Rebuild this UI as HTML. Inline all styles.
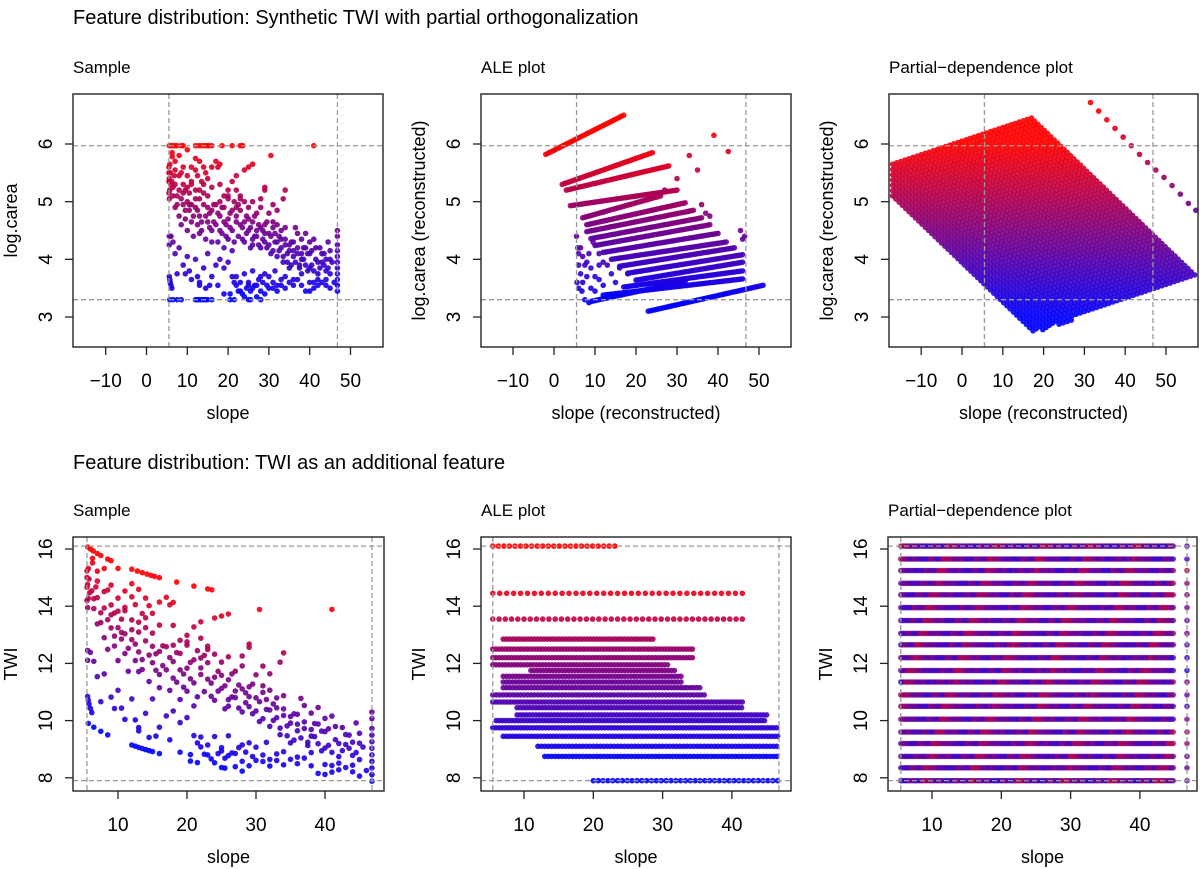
<!DOCTYPE html>
<html><head><meta charset="utf-8">
<style>
body{margin:0;background:#fff;}
svg{display:block;font-family:"Liberation Sans",Arial,sans-serif;}
</style></head>
<body>
<svg id="fig" width="1200" height="869" viewBox="0 0 1200 869" xmlns="http://www.w3.org/2000/svg">
<rect width="1200" height="869" fill="#fff"/>
<text x="73" y="24" font-size="20">Feature distribution: Synthetic TWI with partial orthogonalization</text>
<text x="73" y="469" font-size="20">Feature distribution: TWI as an additional feature</text>
<g id="layer"></g>
</svg>
<script>
// ---- data ----
const samplePoints = [
[5.6,5.97],[6,5.97],[6.4,5.97],[7,5.97],[7.5,5.97],[8.5,5.97],[9,5.97],[12,5.97],[12.8,5.97],[13.5,5.97],[14.2,5.97],[14.8,5.97],[15.3,5.97],[16,5.97],[18.5,5.97],[21,5.97],[23,5.97],[23.6,5.97],[41,5.97],
[5.7,5.65],[5.8,5.5],[5.6,5.4],[5.9,5.3],[6.2,5.35],[6.5,5.25],[5.7,5.2],[6.8,5.45],[7,5.55],[7.5,5.1],[8,5.45],[8.5,5.5],[6.3,5.85],[6.3,5.78],[9,5.3],[9.5,5.2],[10,5.9],[10.5,5.15],[11,5.6],[12,5.75],[12.5,5.45],[13,5.7],[13.5,5.35],[14,5.3],[14.5,5.5],[15,5.4],[16,5.6],[17,5.7],[17.5,5.6],[18,5.65],[19,5.1],[20,5.1],[21,5.35],[22,5.45],[24,5.55],[25,5.6],[26,5.65],[30.5,5.8],[29,5.25],[29,5.2],[34,5.2],[33.5,5.05],
[7,4.9],[8,4.75],[8.5,4.6],[9,4.95],[9.5,4.7],[10,4.5],[10.5,4.85],[11,4.65],[11.5,4.4],[12,4.9],[12.5,4.6],[13,4.75],[13.5,4.5],[14,4.95],[14.5,4.35],[15,4.65],[15.5,4.8],[16,4.5],[16.5,4.95],[17,4.6],[17.5,4.3],[18,4.75],[18.5,4.45],[19,4.9],[19.5,4.6],[20,4.35],[20.5,4.8],[21,4.5],[21.5,5.0],[22,4.65],[22.5,4.4],[23,4.85],[23.5,4.55],[24,4.3],[24.5,4.75],[25,4.5],[25.5,4.2],[26,4.65],[26.5,4.4],[27,4.8],[27.5,4.25],[28,4.55],[28.5,4.35],[29,4.6],[29.5,4.2],[30,4.45],[30.5,4.1],[31,4.55],[31.5,4.3],[32,4.05],[32.5,4.4],[33,4.2],[33.5,3.95],[34,4.35],[34.5,4.1],[35,3.85],[35.5,4.3],[36,4.05],[36.5,4.55],[37,4.2],[37.5,3.9],[38,4.35],[38.5,4.0],[39,4.2],[39.5,3.8],[40,4.1],[40.5,3.9],[41,4.35],[41.5,4.0],[42,3.75],[42.5,4.2],[43,3.95],[43.5,4.1],[44,3.8],[44.5,4.3],[45,4.0],[46,3.6],
[10,5.0],[11,4.95],[12,5.05],[13,4.45],[15,5.1],[16,4.3],[18,5.0],[19,4.2],[20,5.05],[21,4.15],[22,4.9],[23,5.1],[24,5.0],[25,4.9],[26,4.25],[27,4.5],[28,4.9],[29,4.45],[30,4.8],[31,4.65],[32,4.6],[33,4.5],[34,4.55],[35,4.25],[36,4.15],[37,4.45],[38,4.1],[39,4.45],[40,4.3],
[6,4.4],[5.6,4.25],[6.5,4.3],[7,4.1],[8,4.2],[9,3.9],[9.5,3.75],[10,4.05],[10.5,3.8],[11,3.65],[12,4.0],[12.5,3.7],[13,3.55],[14,3.85],[14.5,3.5],[15,4.1],[16,3.7],[17,3.9],[17.5,3.55],[18,4.0],[19,3.85],[20,3.95],[20.5,3.4],[21,3.7],[21.5,3.6],[22,3.55],[22.5,3.45],[23,3.6],[23.5,3.4],[24,3.75],[24.5,3.5],[25,3.6],[25.5,3.45],[26,3.8],[26.5,3.55],[27,3.35],[27.5,3.65],[28,3.45],[28.5,3.6],[29,3.75],[29.5,3.55],[30,3.7],[31,3.5],[31.5,3.8],[32,3.55],[33,3.65],[34,3.7],[35,3.6],[36,3.55],[37,3.65],[38,3.75],[39,3.45],[40,3.45],[41,3.6],[42,3.65],[43,3.6],[44,3.55],[45,3.75],[5.6,3.7],[5.8,3.6],[6.2,3.5],[7.5,3.75],
[46.8,4.5],[46.8,4.4],[46.8,4.25],[46.8,4.15],[46.8,4.05],[46.8,3.95],[46.8,3.85],[46.8,3.75],[46.8,3.65],[46.8,3.55],[46.8,3.45],
[5.7,3.3],[6.5,3.3],[7.5,3.3],[8.5,3.3],[12,3.3],[12.5,3.3],[13,3.3],[13.5,3.3],[14,3.3],[14.5,3.3],[15,3.3],[16,3.3],[20.5,3.3],[21.5,3.3],[25,3.3],[25.5,3.3],[28,3.3],
[6.5,5.1],[7,5.3],[7.5,4.95],[8,5.2],[8.5,5.05],[9,5.15],[9.5,4.85],[10,5.25],[10.5,4.95],[11,5.3],[11.5,4.75],[12,5.2],[12.5,4.85],[13,5.05],[13.5,4.65],[14,5.15],[14.5,4.75],[15,4.9],[15.5,4.55],[16,4.85],[16.5,4.65],[17,4.95],[17.5,4.8],[18,4.5],[18.5,4.9],[19,4.65],[19.5,4.4],[20,4.7],[20.5,4.55],[21,4.85],[21.5,4.3],[22,4.75],[22.5,4.95],[23,4.6],[23.5,4.35],[24,4.65],[24.5,4.45],[25,4.7],[25.5,4.55],[26,4.35],[26.5,4.75],[27,4.4],[27.5,4.6],[28,4.2],[28.5,4.5],[29,4.3],[29.5,4.65],[30,4.25],[30.5,4.4],[31,4.15],[31.5,4.45],[32,4.3],[32.5,4.15],[33,4.35],[33.5,4.05],[34,4.25],[34.5,3.95],[35,4.15],[35.5,3.9],[36,4.3],[36.5,3.95],[37,4.1],[37.5,3.85],[38,4.0],[38.5,4.2],[39,3.9],[39.5,4.1],[40,3.85],[40.5,4.15],[41,3.8],[41.5,4.2],[42,3.95],[42.5,3.85],[43,4.1],[43.5,3.9],[44,4.0],[44.5,3.85],[45,4.15],[45.5,3.95],
[13,3.6],[15.5,3.55],[19,3.4],[22,3.7],[23,3.45],[24,3.35],[25,3.55],[26,3.5],[27,3.55],[28,3.7],[29,3.4],[30,3.5],[31,3.6],[32,3.45],[33,3.55],[34,3.5],[36,3.65],[38,3.55],[40,3.6],[41,3.5],[42,3.55],[44,3.65],[45,3.5],
[7,5.7],[8,5.8],[9,5.6],[10,5.45],[11,5.35],[12,5.55],[13,5.2],[14,5.6],[16,5.25],[18,5.3],[20,5.2],[22,5.2],[23,5.05],[26,5.0],[28,5.05],[31,4.95],[32,4.85],
[5.5,5.6],[5.5,5.5],[5.5,5.35],[5.5,5.15],[5.6,5.05],[5.6,4.4],[5.7,3.65],[6,3.55]
];
// ALE (top): bands [x0,y0,x1,y1]
const aleBands = [
[-2,5.82,17,6.5],[2,5.3,24,5.85],[3,5.2,28,5.62],[4,4.93,30,5.2],[7,4.72,26,5.1],[8,4.6,32,4.98],[8,4.48,34,4.85],[9,4.36,36,4.72],[10,4.24,38,4.6],[12,4.12,40,4.45],[14,4.0,42,4.3],[16,3.88,44,4.2],[18,3.76,46,4.08],[20,3.64,46,3.95],[17,3.52,46,3.8],[12,3.38,46,3.66],[9,3.27,32,3.62],[23,3.1,51,3.55]
];
const aleExtra = [[5.5,4.4],[5.8,4.2],[6,3.9],[6.5,3.75],[5.6,3.6],[6,3.5],[6.8,3.45],[7.5,3.3],[8.5,3.25],[7,4.05],[8,3.95],[9,3.85],[10,3.7],[11,3.65],[12,3.55],[13,3.9],[14,3.75],[15,3.6],[16,3.85],[18,3.75],[11,4.1],[12,3.95],[9.5,4.3],[33,5.8],[39,6.15],[42.5,5.87],[35,5.55],[30,5.4],[27,5.2],[37,4.8],[45.5,4.5],[46,4.35],[46.5,4.4],[38,4.75],[36,4.95],[6,4.1],[7,3.6],[8,3.7],[9,3.5],[10,3.45],[11,3.9],[6.5,4.2],[7.5,3.9],[8.5,4.1]];
// PD (top)
const pdTopEdge = [[-17,5.65],[17,6.45]];
const pdLeftLow = 5.1;
const pdLineSlope = -0.068;
const pdBottomEdge = [[15,2.65],[57,3.7]];
const pdStray = [[31.5,6.72],[33.5,6.57],[35.5,6.42],[37.5,6.27],[39.5,6.12],[41.5,5.97],[43.5,5.82],[45.5,5.68],[47.5,5.55],[49.5,5.42],[51.5,5.28],[53.5,5.13],[55.5,4.97],[57.3,4.85]];
// ALE (bottom) rows
const aleTwiLevels = [16.1,14.45,13.55,12.85,12.5,12.2,11.95,11.75,11.55,11.35,11.15,10.9,10.65,10.45,10.2,10.0,9.75,9.45,9.1,8.75,7.9];
const aleRowStart  = [5.5,5.5,5.5,7,5.5,5.5,5.5,11,7,7,7,5.5,5.5,9,9,6,5.5,7,12,13,20];
const aleRowEnd    = [23.5,41.5,41.5,29,34.5,34.5,31,32,33,33,35.5,36,41.5,41.5,45,45,46.8,46.8,46.8,46.8,46.8];
const aleRowStep   = [0.8,1.0,0.9,0.45,0.45,0.45,0.45,0.45,0.45,0.45,0.45,0.5,0.45,0.45,0.45,0.45,0.45,0.45,0.5,0.5,0.7];
// PD (bottom) rows
const pdTwiLevels = [16.1,15.65,15.25,14.8,14.4,13.95,13.5,13.05,12.65,12.2,11.75,11.35,10.9,10.5,10.05,9.6,9.2,8.75,8.35,7.9];
const pdSlopeRange = [5.5,44.8];
const pdSlopeEdge = 46.8;

// ---- rendering ----
const NS="http://www.w3.org/2000/svg";
const layer=document.getElementById('layer');
function mk(tag,attrs,parent){const e=document.createElementNS(NS,tag);for(const k in attrs)e.setAttribute(k,attrs[k]);(parent||layer).appendChild(e);return e;}
function col(t){t=Math.max(0,Math.min(1,t));return `rgb(${Math.round(255*t)},0,${Math.round(255*(1-t))})`;}
const tLog=v=>(v-3.3)/(6-3.3);
const twi=(s,c)=>c*Math.LN10-Math.log(Math.tan(s*Math.PI/180));

const panels={
 tl:{x0:73,x1:383,y0:94,y1:347,sx:v=>146.5+4.08*v,sy:v=>144+(6-v)*57.67,title:'Sample',xl:'slope',yl:'log.carea',top:true},
 tm:{x0:481,x1:791,y0:94,y1:347,sx:v=>554+4.1*v,sy:v=>144+(6-v)*57.67,title:'ALE plot',xl:'slope (reconstructed)',yl:'log.carea (reconstructed)',top:true},
 tr:{x0:889,x1:1198,y0:94,y1:347,sx:v=>962+4.08*v,sy:v=>144+(6-v)*57.67,title:'Partial\u2212dependence plot',xl:'slope (reconstructed)',yl:'log.carea (reconstructed)',top:true},
 bl:{x0:73,x1:384,y0:537,y1:791,sx:v=>118+(v-10)*6.9,sy:v=>549+(16-v)*28.6,title:'Sample',xl:'slope',yl:'TWI',top:false},
 bm:{x0:481,x1:791,y0:537,y1:791,sx:v=>524+(v-10)*6.93,sy:v=>549+(16-v)*28.6,title:'ALE plot',xl:'slope',yl:'TWI',top:false},
 br:{x0:888,x1:1197,y0:537,y1:791,sx:v=>932+(v-10)*6.93,sy:v=>549+(16-v)*28.6,title:'Partial\u2212dependence plot',xl:'slope',yl:'TWI',top:false}
};
const xTicksTop=[-10,0,10,20,30,40,50], yTicksTop=[3,4,5,6];
const xTicksBot=[10,20,30,40], yTicksBot=[8,10,12,14,16];

let clipId=0;
function setupPanel(key){
 const p=panels[key];
 const g=mk('g',{});
 
 
 const cid='clip'+(clipId++);
 const cp=mk('clipPath',{id:cid},g);mk('rect',{x:p.x0,y:p.y0,width:p.x1-p.x0,height:p.y1-p.y0},cp);
 const pts=mk('g',{'clip-path':`url(#${cid})`},g);
 
 
 p.g=g;p.pts=pts;
 return p;
}
function finishPanel(p){
 const g=p.g;
 const dash={stroke:'#9a9a9a','stroke-width':1.3,'stroke-dasharray':'5,3',fill:'none'};
 const vx=[5.5,46.8], hy=p.top?[5.97,3.3]:[16.1,7.9];
 const dl=mk('g',{'clip-path':p.pts.getAttribute('clip-path')},g);
 
 
 vx.forEach(v=>mk('line',Object.assign({x1:p.sx(v),x2:p.sx(v),y1:p.y0,y2:p.y1},dash),dl));
 hy.forEach(v=>mk('line',Object.assign({x1:p.x0,x2:p.x1,y1:p.sy(v),y2:p.sy(v)},dash),dl));
 const box=mk('rect',{x:p.x0,y:p.y0,width:p.x1-p.x0,height:p.y1-p.y0,fill:'none',stroke:'#222','stroke-width':1.4},g);
 
 
 const xt=p.top?xTicksTop:xTicksBot, yt=p.top?yTicksTop:yTicksBot;
 xt.forEach(v=>{const x=p.sx(v);mk('line',{x1:x,x2:x,y1:p.y1,y2:p.y1+8,stroke:'#222','stroke-width':1.3},g);
  const t=mk('text',{x:x,y:p.y1+40,'font-size':19,'text-anchor':'middle'},g);t.textContent=v<0?'\u2212'+(-v):String(v);
  
  });
 yt.forEach(v=>{const y=p.sy(v);mk('line',{x1:p.x0,x2:p.x0-8,y1:y,y2:y,stroke:'#222','stroke-width':1.3},g);
  const t=mk('text',{x:0,y:0,'font-size':19,'text-anchor':'middle',transform:`translate(${p.x0-21},${y}) rotate(-90)`},g);t.textContent=v;
  
  });
 const xl=mk('text',{x:(p.x0+p.x1)/2,y:p.y1+72,'font-size':18,'text-anchor':'middle'},g);xl.textContent=p.xl;
 
 
 const yl=mk('text',{x:0,y:0,'font-size':18,'text-anchor':'middle',transform:`translate(${p.x0-56},${(p.y0+p.y1)/2}) rotate(-90)`},g);yl.textContent=p.yl;
 
 
 const ti=mk('text',{x:p.x0,y:p.y0-21,'font-size':17},g);ti.textContent=p.title;
 
 
}
function dot(p,x,y,c,op){const e=mk('circle',{cx:p.sx(x).toFixed(1),cy:p.sy(y).toFixed(1),r:2.8,fill:c,'fill-opacity':op||0.9},p.pts);return e;}

// top-left sample
(function(){const p=setupPanel('tl');samplePoints.forEach(([s,c])=>dot(p,s,c,col(tLog(c))));finishPanel(p);})();
// top-mid ALE
(function(){const p=setupPanel('tm');
 aleBands.forEach(([x0,y0,x1,y1])=>{const n=Math.max(2,Math.round((x1-x0)/0.5));for(let i=0;i<=n;i++){const x=x0+(x1-x0)*i/n,y=y0+(y1-y0)*i/n;dot(p,x,y,col(tLog(y)));}});
 aleExtra.forEach(([x,y])=>dot(p,x,y,col(tLog(y)*0.85+0.05)));
 finishPanel(p);})();
// top-right PD
(function(){const p=setupPanel('tr');
 const [A,B]=pdTopEdge,[C,D]=pdBottomEdge;
 const bottom=x=>C[1]+(x-C[0])*(D[1]-C[1])/(D[0]-C[0]);
 const starts=[];
 for(let i=0;i<=34;i++){const t=i/34;starts.push([A[0]+(B[0]-A[0])*t,A[1]+(B[1]-A[1])*t]);}
 for(let i=1;i<=6;i++){starts.push([A[0],A[1]-(A[1]-pdLeftLow)*i/6]);}
 starts.forEach(([sx,sy])=>{for(let x=sx;x<=57.5;x+=0.8){const y=sy+pdLineSlope*(x-sx);if(y<bottom(x))break;dot(p,x,y,col((y-3.0)/3.0));}});
 pdStray.forEach(([x,y])=>dot(p,x,y,col((y-3.6)/3)));
 finishPanel(p);})();
// bottom-left sample
(function(){const p=setupPanel('bl');samplePoints.forEach(([s,c])=>dot(p,s,twi(s,c),col(tLog(c))));finishPanel(p);})();
// bottom-mid ALE
(function(){const p=setupPanel('bm');
 aleTwiLevels.forEach((lv,r)=>{for(let x=aleRowStart[r];x<=aleRowEnd[r]+1e-6;x+=aleRowStep[r]){dot(p,x,lv,col((lv-8.6)/6.5));}});
 finishPanel(p);})();
// bottom-right PD
(function(){const p=setupPanel('br');const n=samplePoints.length;
 pdTwiLevels.forEach((lv,r)=>{let i=0;const xs=[];for(let x=pdSlopeRange[0];x<=pdSlopeRange[1];x+=0.3)xs.push(x);xs.push(pdSlopeEdge);
  xs.forEach(x=>{const c=samplePoints[(i*17+r*31)%n][1];i++;dot(p,x,lv,col(0.5*tLog(c)+0.2),0.8);});});
 finishPanel(p);})();
</script>
</body></html>
